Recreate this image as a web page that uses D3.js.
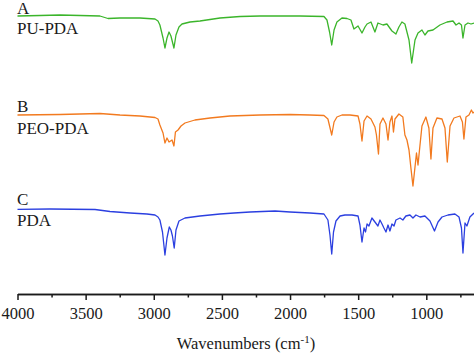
<!DOCTYPE html>
<html>
<head>
<meta charset="utf-8">
<script src="https://cdn.jsdelivr.net/npm/d3@7"></script>
<style>
  body { margin: 0; background: #fff; }
  svg { display: block; }
  svg text { fill: #1a1a1a; }
  .axis path, .axis line { stroke: #1a1a1a; stroke-width: 1.5; }
  .axis text { font-size: 16.5px; }
  .spectrum { fill: none; stroke-width: 1.3; stroke-linejoin: round; }
</style>
</head>
<body>
<div id="chart"></div>
<script>
// wavenumber (cm-1) / transmittance (a.u.)
var puWave = [4000, 3835, 3688, 3541, 3395, 3336, 3248, 3101, 2991, 2969, 2955, 2932, 2918, 2903, 2888, 2874, 2852, 2837, 2815, 2793, 2734, 2661, 2514, 2367, 2220, 2074, 1927, 1751, 1729, 1710, 1694, 1677, 1656, 1619, 1582, 1553, 1531, 1501, 1472, 1450, 1435, 1406, 1377, 1355, 1318, 1289, 1252, 1223, 1201, 1179, 1157, 1127, 1107, 1083, 1061, 1032, 1010, 988, 951, 900, 848, 804, 782, 760, 742, 731, 716, 694, 672, 650];
var puT = [78, 78.5, 79, 78.5, 78, 75.5, 76, 76, 75, 73, 69, 56, 46, 56, 62, 58, 46, 59, 67, 70, 72, 73, 76, 77.5, 78, 78, 78, 77.5, 74, 62, 49, 64, 72, 76, 75.5, 74, 65, 68, 61, 67, 70, 72, 62, 71, 69, 70, 63, 60, 67, 72, 70, 54, 31, 54, 61, 64, 59, 63, 64, 69, 72, 73, 69, 71, 69, 56, 69, 71, 70, 71];

var peoWave = [4000, 3688, 3395, 3248, 3101, 2991, 2969, 2955, 2932, 2918, 2903, 2888, 2866, 2852, 2841, 2822, 2800, 2771, 2698, 2587, 2441, 2220, 2000, 1854, 1751, 1722, 1694, 1677, 1656, 1619, 1560, 1501, 1487, 1472, 1457, 1435, 1406, 1377, 1366, 1351, 1340, 1318, 1296, 1281, 1267, 1252, 1241, 1230, 1201, 1172, 1157, 1142, 1127, 1113, 1098, 1083, 1072, 1061, 1050, 1032, 1003, 981, 966, 951, 922, 885, 863, 846, 826, 797, 753, 735, 724, 709, 687, 669, 658, 650];
var peoT = [79, 79.5, 80.5, 79, 78, 76.5, 75, 69, 61, 51, 56, 52, 54, 48, 62, 64, 68, 71, 74, 76, 78, 79, 79.5, 79, 78.5, 75, 59, 72, 77, 79, 79, 78, 70, 53, 73, 78, 75, 67, 59, 40, 70, 76, 70, 54, 72, 78, 62, 75, 80, 77, 59, 54, 44, 26, 8, 27, 41, 29, 44, 68, 77, 66, 35, 66, 76, 75, 66, 32, 68, 76, 78, 72, 55, 77, 79, 84, 81, 82];

var pdaWave = [4000, 3762, 3431, 3321, 3174, 3050, 2991, 2969, 2955, 2936, 2918, 2903, 2886, 2874, 2863, 2850, 2837, 2815, 2771, 2661, 2514, 2411, 2294, 2110, 2000, 1854, 1751, 1722, 1707, 1694, 1681, 1663, 1633, 1597, 1545, 1501, 1487, 1472, 1457, 1446, 1435, 1421, 1399, 1377, 1355, 1340, 1325, 1311, 1296, 1281, 1267, 1252, 1237, 1223, 1193, 1172, 1150, 1120, 1098, 1076, 1046, 1010, 973, 940, 914, 885, 841, 790, 760, 742, 731, 716, 702, 680, 650];
var pdaT = [84.7, 85, 84.5, 82.5, 81, 80, 79, 77, 74, 62, 39, 56, 67, 64, 58, 46, 64, 73, 76, 78, 80, 81, 82, 83, 82, 81, 80, 74, 59, 40, 62, 73, 78, 79, 79, 78, 69, 52, 66, 62, 70, 68, 76, 72, 68, 74, 70, 66, 62, 69, 63, 70, 68, 74, 76, 74, 78, 79, 76, 79, 77, 78, 73, 63, 72, 77, 79, 80, 77, 66, 41, 71, 68, 77, 81];

var seriesLetters = ['A', 'B', 'C'];
var seriesNames = ['PU-PDA', 'PEO-PDA', 'PDA'];
var seriesOffsets = [200, 100, 0];
var majorTicks = [4000, 3500, 3000, 2500, 2000, 1500, 1000];
var minorTicks = [3750, 3250, 2750, 2250, 1750, 1250, 750];

var width = 474, height = 354,
  axisY = 294,
  serif = "'Liberation Serif', 'DejaVu Serif', serif",
  colors = ['#3bb52b', '#f27a1f', '#2b3fe0'];

var x = d3.scaleLinear().domain([4000, 650]).range([17.5, 474]);
var y = d3.scaleLinear().domain([0, 294]).range([axisY, 0]);

var svg = d3.select('#chart').append('svg')
  .attr('width', width)
  .attr('height', height)
  .attr('font-family', serif);

var spectra = [
  {wave: puWave, t: puT},
  {wave: peoWave, t: peoT},
  {wave: pdaWave, t: pdaT}
];

var line = d3.line()
  .x(function (d) { return x(d[0]); })
  .y(function (d) { return y(d[1]); });

spectra.forEach(function (s, i) {
  var pts = s.wave.map(function (w, j) {
    return [w, s.t[j] + seriesOffsets[i]];
  });
  svg.append('path')
    .attr('class', 'spectrum')
    .attr('d', line(pts))
    .style('stroke', colors[i]);
});

// series labels sit just above / below each baseline
var labelY = [[14, 34], [112, 134], [205, 226]];
seriesLetters.forEach(function (l, i) {
  svg.append('text')
    .attr('x', x(4000) - 0.5)
    .attr('y', labelY[i][0])
    .style('font-family', serif)
    .style('font-size', '17px')
    .text(l);
  svg.append('text')
    .attr('x', x(4000) - 0.5)
    .attr('y', labelY[i][1])
    .style('font-family', serif)
    .style('font-size', '17px')
    .text(seriesNames[i]);
});

// axis
svg.append('g')
  .attr('class', 'axis')
  .attr('transform', 'translate(0,' + axisY + ')')
  .call(d3.axisBottom(x).tickValues(minorTicks).tickSize(3.5).tickSizeOuter(0).tickFormat(''));

var xAxis = svg.append('g')
  .attr('class', 'axis')
  .attr('transform', 'translate(0,' + axisY + ')')
  .call(d3.axisBottom(x).tickValues(majorTicks).tickSize(6).tickSizeOuter(0).tickFormat(d3.format('d')));
xAxis.attr('font-family', serif);
xAxis.selectAll('text')
  .attr('y', 13)
  .style('font-family', serif);

var title = svg.append('text')
  .attr('x', 246)
  .attr('y', 349)
  .attr('text-anchor', 'middle')
  .style('font-family', serif)
  .style('font-size', '16.5px');
title.append('tspan').text('Wavenumbers (cm');
title.append('tspan').attr('dy', -6).style('font-size', '11px').text('-1');
title.append('tspan').attr('dy', 6).text(')');
</script>
</body>
</html>
